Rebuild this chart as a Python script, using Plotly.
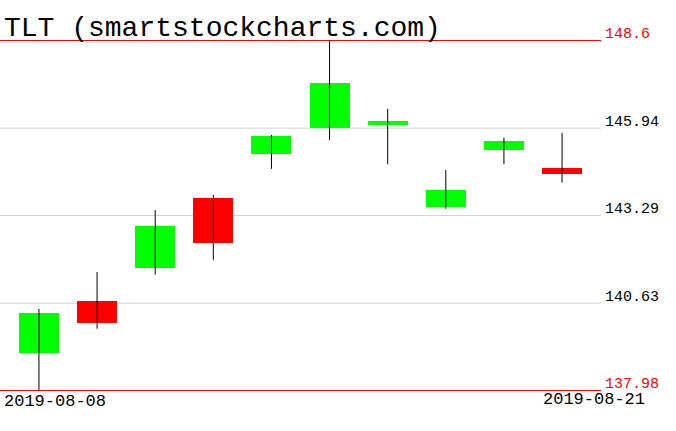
import plotly.graph_objects as go

dates = ["2019-08-08", "2019-08-09", "2019-08-12", "2019-08-13", "2019-08-14",
         "2019-08-15", "2019-08-16", "2019-08-19", "2019-08-20", "2019-08-21"]
opens = [139.11, 140.68, 141.69, 143.81, 145.15, 145.94, 146.02, 143.54, 145.27, 144.72]
highs = [140.44, 141.56, 143.44, 143.90, 145.72, 148.60, 146.51, 144.66, 145.64, 145.78]
lows = [137.98, 139.84, 141.48, 141.93, 144.69, 145.56, 144.83, 143.48, 144.83, 144.27]
closes = [140.32, 140.02, 142.96, 142.45, 145.69, 147.30, 146.14, 144.05, 145.54, 144.54]

y_min, y_max = 137.98, 148.6
grid_vals = [145.94, 143.29, 140.63]
title_text = "TLT (smartstockcharts.com)"

xs = list(range(len(dates)))

# wicks
wx, wy = [], []
for i in xs:
    wx += [i, i, None]
    wy += [lows[i], highs[i], None]

fig = go.Figure()
fig.add_trace(go.Scatter(x=wx, y=wy, mode="lines",
                         line=dict(color="black", width=1), hoverinfo="skip",
                         showlegend=False))
fig.add_trace(go.Bar(
    x=xs,
    base=[min(o, c) for o, c in zip(opens, closes)],
    y=[max(abs(c - o), 0.12) for o, c in zip(opens, closes)],
    width=0.69,
    marker=dict(color=["#00ff00" if c >= o else "#ff0000" for o, c in zip(opens, closes)],
                line=dict(width=0)),
    showlegend=False,
))

shapes = []
for v in grid_vals:
    shapes.append(dict(type="line", xref="paper", x0=0, x1=1, yref="y",
                       ysizemode="pixel", yanchor=v, y0=-0.5, y1=-0.5,
                       line=dict(color="#d3d3d3", width=1), layer="below"))
# red lines at the range limits (y_max at paper 1, y_min at paper 0)
for p in [0, 1]:
    shapes.append(dict(type="line", xref="paper", x0=0, x1=1, yref="paper",
                       ysizemode="pixel", yanchor=p, y0=-0.5, y1=-0.5,
                       line=dict(color="#ff0000", width=1), layer="above"))

mono = "Liberation Mono"
annotations = []
for v, col in [(y_max, "#ff0000"), (grid_vals[0], "black"), (grid_vals[1], "black"),
               (grid_vals[2], "black"), (y_min, "#ff0000")]:
    annotations.append(dict(xref="paper", x=1, xanchor="left", xshift=2,
                            yref="y", y=v, yanchor="bottom", yshift=-5,
                            text=f"{v:g}" if v == y_max else f"{v:.2f}",
                            showarrow=False, font=dict(family=mono, size=15, color=col)))
annotations.append(dict(xref="paper", x=0, xanchor="left", xshift=2,
                        yref="paper", y=0, yanchor="top", yshift=0,
                        text=dates[0], showarrow=False,
                        font=dict(family=mono, size=17, color="black")))
annotations.append(dict(xref="paper", x=1, xanchor="right", xshift=46,
                        yref="paper", y=0, yanchor="top", yshift=2,
                        text=dates[-1], showarrow=False,
                        font=dict(family=mono, size=17, color="black")))
annotations.append(dict(xref="paper", x=0, xanchor="left", xshift=2,
                        yref="paper", y=1, yanchor="bottom", yshift=-6,
                        text=title_text, showarrow=False,
                        font=dict(family=mono, size=28, color="black")))

fig.update_layout(
    width=676, height=431,
    margin=dict(l=0, r=75, t=40, b=41),
    paper_bgcolor="white", plot_bgcolor="white",
    xaxis=dict(range=[-0.67, 9.67], showgrid=False, zeroline=False,
               showticklabels=False, ticks="", showline=False),
    yaxis=dict(range=[y_min, y_max], showgrid=False, zeroline=False,
               showticklabels=False, ticks="", showline=False),
    shapes=shapes, annotations=annotations, bargap=0,
)

fig.write_html("out.html", config={"displayModeBar": False},
               post_script="document.body.style.margin='0';")
